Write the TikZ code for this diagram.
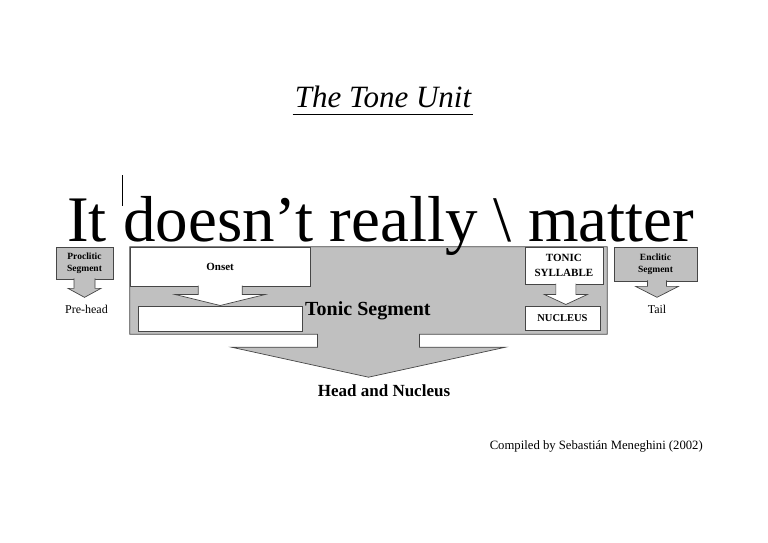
\documentclass[tikz,border=0pt]{standalone}
\usepackage{fontspec}
\setmainfont{Liberation Serif}
\usetikzlibrary{calc}
\definecolor{segfill}{RGB}{192,192,192}
\definecolor{segline}{RGB}{70,70,70}

\begin{document}
\begin{tikzpicture}[x=1pt,y=-1pt,
  seg/.style={draw=segline,line width=0.7pt,fill=segfill},
  blank/.style={draw=segline,line width=0.7pt,fill=white},
  lbl/.style={inner sep=0pt,align=center,font=\bfseries\fontsize{9.5}{12.5}\selectfont},
  big/.style={inner sep=0pt,font=\fontsize{65}{65}\selectfont}]
\useasboundingbox (0,0) rectangle (768,543);
\node[inner sep=0pt,font=\itshape\fontsize{31}{31}\selectfont] (title) at (383,97) {The Tone Unit};
\draw[line width=0.8pt] ($(title.base west)+(-2,7)$) -- ($(title.base east)+(2,7)$);

\node[minimum width=477,minimum height=87,inner sep=0pt] (tonic) at (368.5,290.5) {};
\draw[seg] (tonic.north west) -- (tonic.north east) -- (tonic.south east)
  -- ($(tonic.south)+(51,0)$) -- ++(0,13) -- ++(86,0) -- ($(tonic.south)+(0,43)$)
  -- ($(tonic.south)+(-137,13)$) -- ++(86,0) -- ++(0,-13) -- (tonic.south west) -- cycle;

\node[big,anchor=base west] (it) at (67,241) {It};
\node[big,anchor=base west] (rest) at ($(it.base east)+(16,0)$) {doesn't really \textbackslash{} matter};
\draw[line width=1pt] ($(rest.base west)+(-1,-66)$) -- ++(0,31);

\node[blank,lbl,minimum width=180,minimum height=39,anchor=north west,font=\bfseries\fontsize{11}{13}\selectfont] (onset) at (tonic.north west) {Onset};
\draw[blank] ($(onset.south)+(-22,-1)$) -- ++(0,9) -- ++(-23,0) -- ($(onset.south)+(0,19)$)
  -- ($(onset.south)+(45,8)$) -- ++(-23,0) -- ++(0,-9);
\node[blank,minimum width=164,minimum height=25,inner sep=0pt] (hd) at (220.5,318.5) {};
\node[anchor=west,inner sep=0pt,font=\bfseries\fontsize{20}{20}\selectfont] (tseg) at (305,311) {Tonic Segment};

\node[blank,lbl,minimum width=78,minimum height=37,anchor=north east,font=\bfseries\fontsize{11}{14.5}\selectfont] (syl) at ($(tonic.north east)+(-4,0)$) {TONIC\\SYLLABLE};
\draw[blank] ($(syl.south)+(-8,-1)$) -- ++(0,11) -- ++(-11.5,0) -- ($(syl.south)+(2,20)$)
  -- ($(syl.south)+(23.5,10)$) -- ++(-11.5,0) -- ++(0,-11);
\node[blank,lbl,minimum width=75,minimum height=24,font=\bfseries\fontsize{10.5}{12}\selectfont] (nuc) at (562.5,318) {NUCLEUS};

\node[seg,lbl,minimum width=57,minimum height=32] (pro) at (84.5,263) {Proclitic\\Segment};
\draw[seg] ($(pro.south)+(-10.5,-1)$) -- ++(0,10) -- ++(-6,0) -- ($(pro.south)+(0,18)$)
  -- ($(pro.south)+(16.5,9)$) -- ++(-6,0) -- ++(0,-10);
\node[inner sep=0pt,font=\fontsize{12}{12}\selectfont] (pre) at ($(pro.south)+(2,30)$) {Pre-head};

\node[seg,lbl,minimum width=83,minimum height=34] (enc) at (655.5,264) {Enclitic\\Segment};
\draw[seg] ($(enc.south)+(-8,-1)$) -- ++(0,6) -- ++(-12,0) -- ($(enc.south)+(1.5,16)$)
  -- ($(enc.south)+(23,5)$) -- ++(-12,0) -- ++(0,-6);
\node[inner sep=0pt,font=\fontsize{12}{12}\selectfont] (tail) at ($(enc.south)+(1.5,28)$) {Tail};

\node[inner sep=0pt,font=\bfseries\fontsize{17}{17}\selectfont] (hn) at (384,391) {Head and Nucleus};
\node[inner sep=0pt,anchor=east,font=\fontsize{12.7}{12.7}\selectfont] (cred) at (703,446) {Compiled by Sebastián Meneghini (2002)};
\end{tikzpicture}
\end{document}
